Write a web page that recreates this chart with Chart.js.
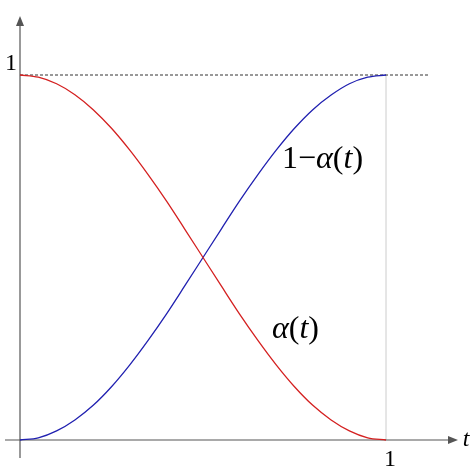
<!DOCTYPE html>
<html><head><meta charset="utf-8">
<script src="https://cdn.jsdelivr.net/npm/chart.js"></script>
<style>html,body{margin:0;padding:0;background:#fff}#w{width:474px;height:474px}</style>
</head><body><div id="w"><canvas id="c"></canvas></div>
<script>
const tValues = [0,0.05,0.1,0.15,0.2,0.25,0.3,0.35,0.4,0.45,0.5,0.55,0.6,0.65,0.7,0.75,0.8,0.85,0.9,0.95,1];
const alphaValues = [1,0.994,0.976,0.946,0.905,0.854,0.794,0.727,0.655,0.578,0.5,0.422,0.345,0.273,0.206,0.146,0.095,0.055,0.025,0.006,0];
const oneMinusAlphaValues = [0,0.006,0.025,0.055,0.095,0.146,0.206,0.273,0.345,0.422,0.5,0.578,0.655,0.727,0.794,0.854,0.905,0.945,0.976,0.994,1];
const tickLabelOne = "1";

function runs(c, parts, x, y, size){
  for(const [txt, it] of parts){
    c.font=(it?'italic ':'')+size+'px "Liberation Serif", "Times New Roman", serif';
    c.fillText(txt,x,y); x+=c.measureText(txt).width;
  }
}
const deco = {
  id:'deco',
  beforeDatasetsDraw(ch){
    const c=ch.ctx, x=ch.scales.x, y=ch.scales.y;
    const x0=x.getPixelForValue(0), x1=x.getPixelForValue(1), y0=y.getPixelForValue(0), y1=y.getPixelForValue(1);
    c.save();
    c.strokeStyle='#ccc'; c.lineWidth=1;
    c.beginPath(); c.moveTo(x1,y1); c.lineTo(x1,y0); c.stroke();
    c.strokeStyle='#333'; c.setLineDash([3,2]);
    c.beginPath(); c.moveTo(x0,y1); c.lineTo(430,y1); c.stroke();
    c.setLineDash([]); c.strokeStyle='#555'; c.fillStyle='#555'; c.lineWidth=1.2;
    c.beginPath(); c.moveTo(x0,458); c.lineTo(x0,22); c.stroke();
    c.beginPath(); c.moveTo(x0,16); c.lineTo(x0-4,26); c.lineTo(x0+4,26); c.closePath(); c.fill();
    c.beginPath(); c.moveTo(5,y0); c.lineTo(452,y0); c.stroke();
    c.beginPath(); c.moveTo(458,y0); c.lineTo(448,y0-4); c.lineTo(448,y0+4); c.closePath(); c.fill();
    c.fillStyle='#000'; c.textAlign='center'; c.textBaseline='middle';
    c.font='24px "Liberation Serif", serif';
    c.fillText(tickLabelOne,11,64);
    c.fillText(tickLabelOne,x1+4,460);
    c.font='italic 24px "Liberation Serif", serif';
    c.fillText('t',466,440);
    c.textAlign='left';
    runs(c,[['1',false],['\u2212',false],['\u03b1',true],['(',false],['t',true],[')',false]],282,160,32);
    runs(c,[['\u03b1',true],['(',false],['t',true],[')',false]],272,330,32);
    c.restore();
  }
};
new Chart(document.getElementById('c'),{
  type:'line',
  data:{datasets:[
    {data:tValues.map((t,i)=>({x:t,y:alphaValues[i]})),borderColor:'#d42020',borderWidth:1.3,pointRadius:0,cubicInterpolationMode:'monotone'},
    {data:tValues.map((t,i)=>({x:t,y:oneMinusAlphaValues[i]})),borderColor:'#2020b0',borderWidth:1.3,pointRadius:0,cubicInterpolationMode:'monotone'}
  ]},
  options:{responsive:true,maintainAspectRatio:false,animation:false,
    layout:{padding:0},
    plugins:{legend:{display:false},tooltip:{enabled:false}},
    scales:{
      x:{type:'linear',display:false,min:-20/366,max:454/366},
      y:{type:'linear',display:false,min:-34/365,max:440/365}
    }},
  plugins:[deco]
});
</script></body></html>
